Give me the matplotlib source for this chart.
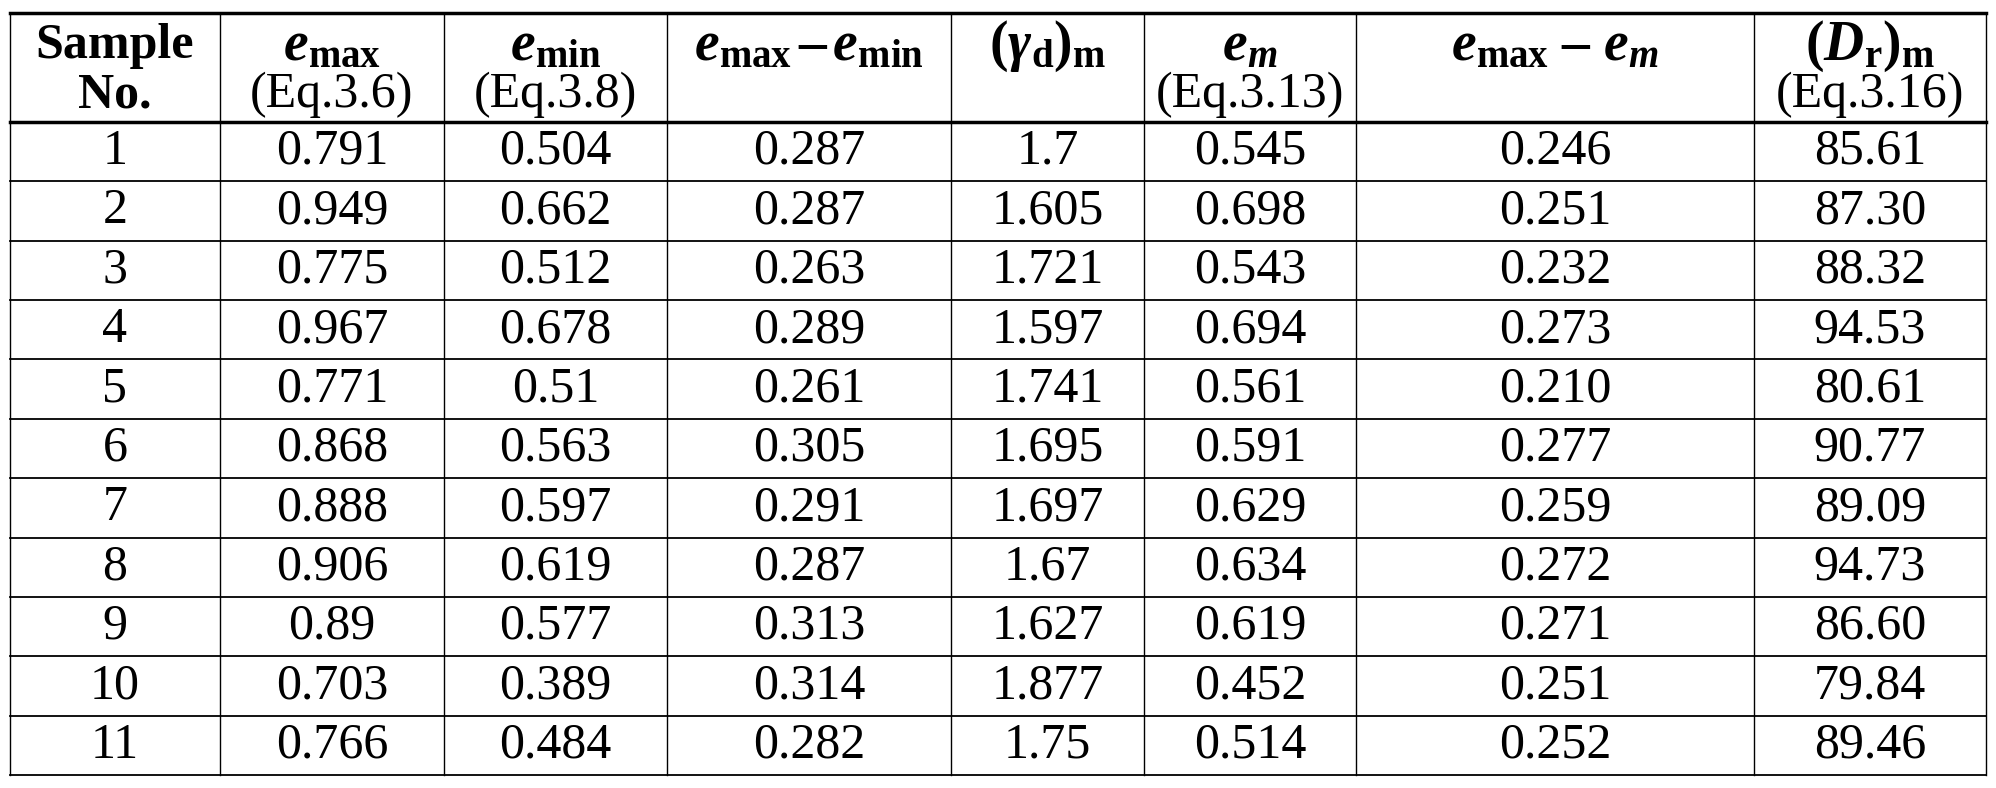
import matplotlib.pyplot as plt

plt.rcParams['mathtext.fontset'] = 'custom'
plt.rcParams['mathtext.rm'] = 'Liberation Serif'
plt.rcParams['mathtext.it'] = 'Liberation Serif:italic'
plt.rcParams['mathtext.bf'] = 'Liberation Serif:bold'
plt.rcParams['mathtext.bfit'] = 'Liberation Serif:bold:italic'

headers = [
    ["Sample", "No."],
    [r"$\mathbfit{e}_{\mathbf{max}}$", "(Eq.3.6)"],
    [r"$\mathbfit{e}_{\mathbf{min}}$", "(Eq.3.8)"],
    [r"$\mathbfit{e}_{\mathbf{max}}\,\mathbf{\endash}\,\mathbfit{e}_{\mathbf{min}}$"],
    [r"$\mathbf{(}\mathbfit{\gamma}_{\mathbf{d}}\mathbf{)}_{\mathbf{m}}$"],
    [r"$\mathbfit{e}_{\mathbfit{m}}$", "(Eq.3.13)"],
    [r"$\mathbfit{e}_{\mathbf{max}}\mathbf{\ \endash\ }\mathbfit{e}_{\mathbfit{m}}$"],
    [r"$\mathbf{(}\mathbfit{D}_{\mathbf{r}}\mathbf{)}_{\mathbf{m}}$", "(Eq.3.16)"],
]

sample_no = ["1", "2", "3", "4", "5", "6", "7", "8", "9", "10", "11"]
e_max = ["0.791", "0.949", "0.775", "0.967", "0.771", "0.868", "0.888", "0.906", "0.89", "0.703", "0.766"]
e_min = ["0.504", "0.662", "0.512", "0.678", "0.51", "0.563", "0.597", "0.619", "0.577", "0.389", "0.484"]
e_diff = ["0.287", "0.287", "0.263", "0.289", "0.261", "0.305", "0.291", "0.287", "0.313", "0.314", "0.282"]
gamma_d = ["1.7", "1.605", "1.721", "1.597", "1.741", "1.695", "1.697", "1.67", "1.627", "1.877", "1.75"]
e_m = ["0.545", "0.698", "0.543", "0.694", "0.561", "0.591", "0.629", "0.634", "0.619", "0.452", "0.514"]
e_max_m = ["0.246", "0.251", "0.232", "0.273", "0.210", "0.277", "0.259", "0.272", "0.271", "0.251", "0.252"]
dr_m = ["85.61", "87.30", "88.32", "94.53", "80.61", "90.77", "89.09", "94.73", "86.60", "79.84", "89.46"]
columns = [sample_no, e_max, e_min, e_diff, gamma_d, e_m, e_max_m, dr_m]

col_x = [10, 220, 444, 667, 951, 1144, 1356, 1754, 1986]
top, head_bot, bottom = 13, 122, 775
n = len(sample_no)
row_h = (bottom - head_bot) / n

fig = plt.figure(figsize=(19.96, 7.88), dpi=100)
ax = fig.add_axes([0, 0, 1, 1])
ax.set_xlim(0, 1996)
ax.set_ylim(788, 0)
ax.axis('off')

serif = 'Liberation Serif'
fs = 36

# grid
ax.plot([col_x[0], col_x[-1]], [top, top], color='black', lw=2.5)
ax.plot([col_x[0], col_x[-1]], [head_bot, head_bot], color='black', lw=2.5)
for i in range(1, n + 1):
    y = head_bot + i * row_h
    ax.plot([col_x[0], col_x[-1]], [y, y], color='black', lw=1.3)
for x in col_x:
    ax.plot([x, x], [top, bottom], color='black', lw=1.0)

# header
for j, h in enumerate(headers):
    cx = (col_x[j] + col_x[j + 1]) / 2
    ys = [top + 33, top + 82] if len(h) == 2 else [top + 33]
    for t, y in zip(h, ys):
        is_math = t.startswith('$')
        weight = 'bold' if j == 0 else 'normal'
        ax.text(cx, y, t, ha='center', va='center',
                fontsize=40 if is_math else fs, family=serif, weight=weight)

# body
for j, col in enumerate(columns):
    cx = (col_x[j] + col_x[j + 1]) / 2
    for i, v in enumerate(col):
        y = head_bot + (i + 0.5) * row_h
        ax.text(cx, y, v, ha='center', va='center', fontsize=fs, family=serif)

fig.savefig('out.png', dpi=100)
